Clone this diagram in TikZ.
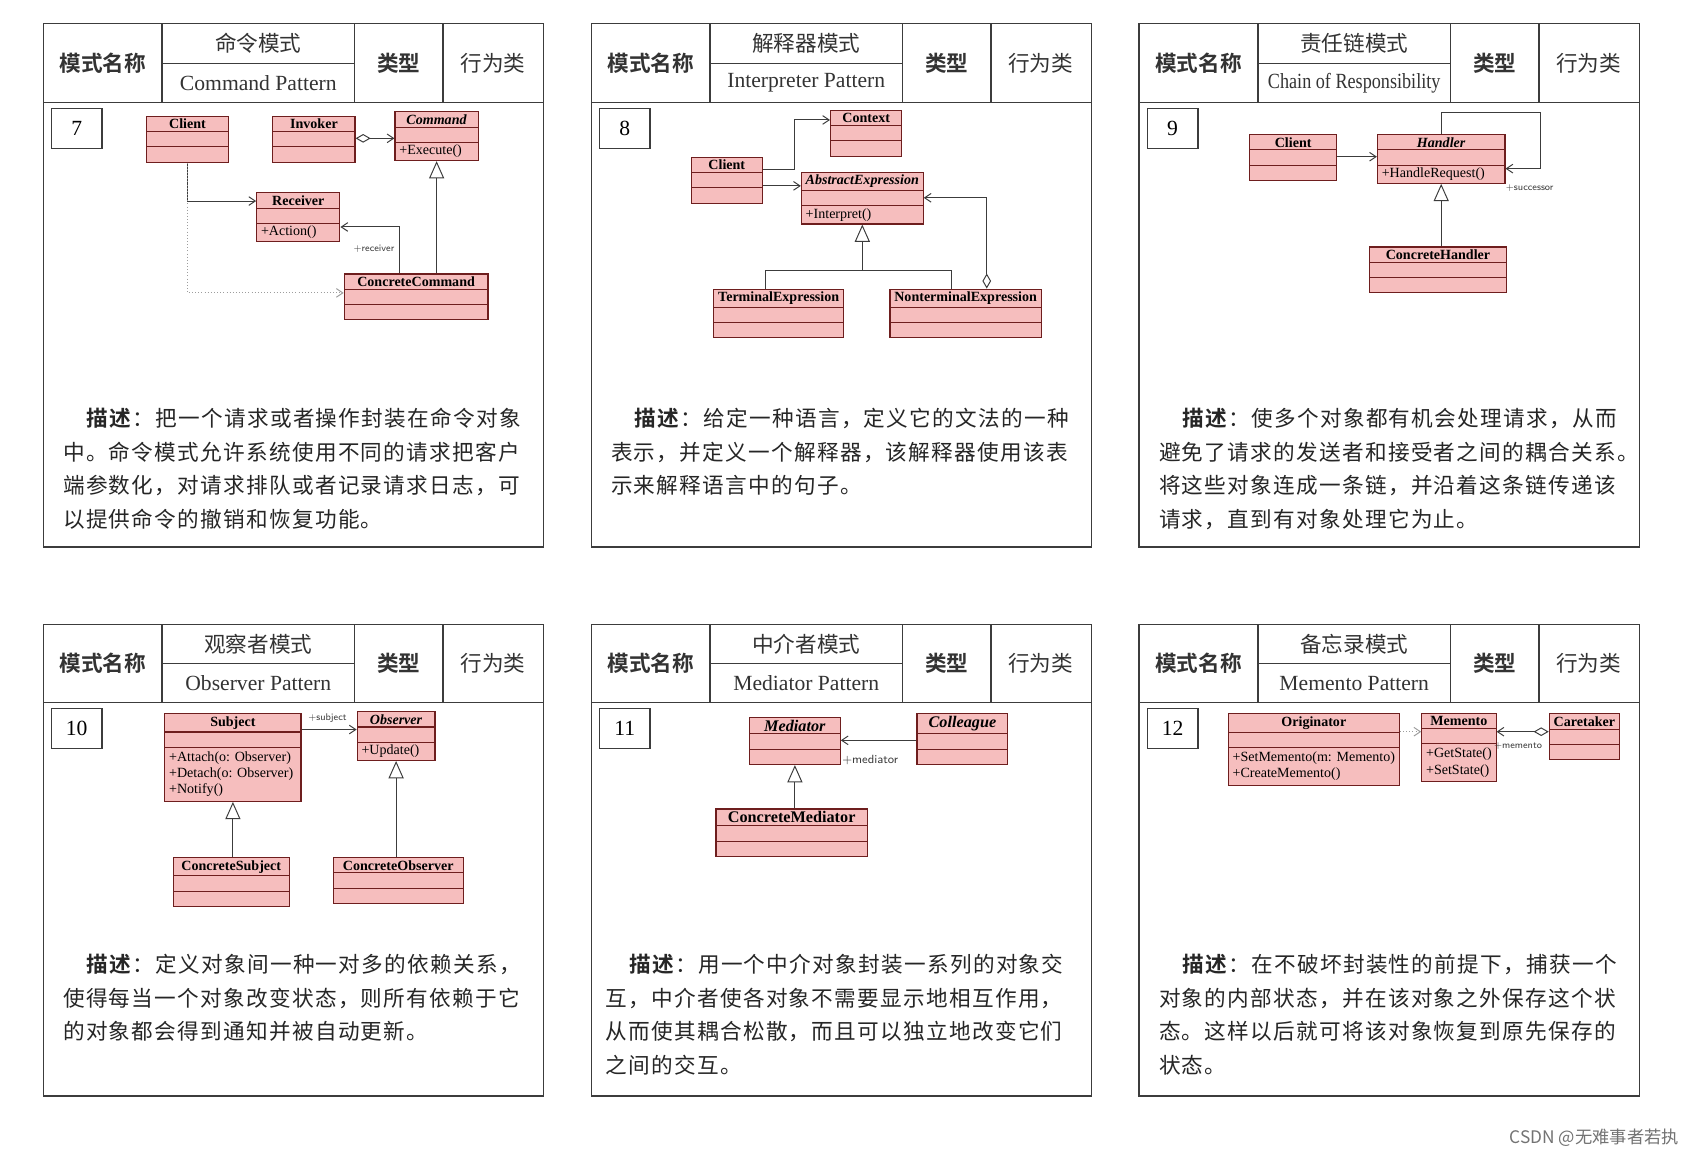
\documentclass[tikz,border=0pt]{standalone}
\usepackage{fontspec}
\setmainfont{Liberation Serif}
\newfontfamily\cjk[BoldFont={Noto Sans CJK SC Bold}]{Noto Sans CJK SC}
\newfontfamily\cjkdesc[BoldFont={Noto Sans CJK SC Bold}, LetterSpace=6]{Noto Sans CJK SC}
\usetikzlibrary{positioning}
\usetikzlibrary{shapes}
\usetikzlibrary{arrows.meta}
\definecolor{umlpink}{RGB}{246,190,190}
\definecolor{umledge}{RGB}{110,30,30}
\definecolor{framegray}{RGB}{60,60,60}
\newcommand{\umlfont}{\fontsize{6.5}{7.5}\selectfont}
\newcommand{\ops}[1]{\begin{tabular}{@{}l@{}}#1\end{tabular}}
\newcommand{\firstline}[1]{\textbf{描述}：#1}
\newcommand{\fullline}[1]{#1}
% one pattern card: prefix, left x, top y, bottom y, header height, number, chinese name, english name
\newcommand{\patterncard}[8]{%
  \draw[frame] (#2,#3) rectangle ({#2+463},#4);
  \draw[frame] (#2,{#3+#5}) -- ({#2+463},{#3+#5});
  \foreach \dx in {110,288,370} \draw[frame] ({#2+\dx},#3) -- ({#2+\dx},{#3+#5});
  \draw[frame] ({#2+110},{#3+#5/2}) -- ({#2+288},{#3+#5/2});
  \node[hdr, font=\cjk\bfseries\fontsize{10}{12}\selectfont] (#1-key) at ({#2+55},{#3+#5/2}) {模式名称};
  \node[hdr, font=\cjk\fontsize{10}{12}\selectfont] (#1-cn) at ({#2+199},{#3+#5/4}) {#7};
  \node[hdr] (#1-en) at ({#2+199},{#3+3*#5/4}) {#8};
  \node[hdr, font=\cjk\bfseries\fontsize{10}{12}\selectfont] (#1-typekey) at ({#2+329},{#3+#5/2}) {类型};
  \node[hdr, font=\cjk\fontsize{10}{12}\selectfont] (#1-type) at ({#2+416},{#3+#5/2}) {行为类};
  \node[numbox] (#1-num) at ({#2+31},{#3+#5+24}) {#6};
}
\begin{document}
\begin{tikzpicture}[x=0.5pt, y=-0.5pt,
    frame/.style={draw=framegray, line width=0.6pt},
    hdr/.style={inner sep=0pt, font=\fontsize{10}{12}\selectfont, text=black!80},
    numbox/.style={draw=framegray, line width=0.6pt, minimum width=23.5pt, minimum height=18.5pt, font=\fontsize{10}{12}\selectfont},
    cls/.style={rectangle split, rectangle split parts=3, draw=umledge, fill=umlpink, anchor=north west,
      font=\umlfont, inner xsep=2pt, inner ysep=1pt, rectangle split empty part height=1.6pt,
      rectangle split part align={center,left,left}, line width=0.5pt},
    desc/.style={anchor=base west, inner sep=0pt, font=\cjkdesc\fontsize{10}{12}\selectfont, text=black!85},
    role/.style={inner sep=0.5pt, font=\fontsize{4.5}{5}\selectfont\sffamily, text=framegray},
    assoc/.style={draw=framegray, line width=0.45pt, -{Straight Barb[length=3pt, width=4pt]}},
    depend/.style={assoc, densely dotted},
    inherit/.style={draw=framegray, line width=0.45pt, -{Triangle[open, length=8pt, width=7pt]}},
    aggr/.style={draw=framegray, line width=0.45pt, {Diamond[open, length=7pt, width=4pt]}-{Straight Barb[length=3pt, width=4pt]}}]
  \useasboundingbox[fill=white] (0,0) rectangle (1560,1066);
  % cards
  \patterncard{p1}{40}{22}{506}{73}{7}{命令模式}{Command Pattern}
  \patterncard{p2}{547}{22}{506}{73}{8}{解释器模式}{Interpreter Pattern}
  \patterncard{p3}{1054}{22}{506}{73}{9}{责任链模式}{\scalebox{0.84}[1]{Chain of Responsibility}}
  \patterncard{p4}{40}{578}{1014}{72}{10}{观察者模式}{Observer Pattern}
  \patterncard{p5}{547}{578}{1014}{72}{11}{中介者模式}{Mediator Pattern}
  \patterncard{p6}{1054}{578}{1014}{72}{12}{备忘录模式}{Memento Pattern}
  % command
  \node[cls, minimum width=38pt] (p1-client) at (135,107) {\textbf{Client}\nodepart{two}\nodepart{three}};
  \node[cls, minimum width=38pt] (p1-inv) at (252,107) {\textbf{Invoker}\nodepart{two}\nodepart{three}};
  \node[cls, minimum width=38.5pt] (p1-cmd) at (365,103) {\textbf{\textit{Command}}\nodepart{two}\nodepart{three}+Execute()};
  \node[cls, minimum width=38.5pt] (p1-recv) at (237,178) {\textbf{Receiver}\nodepart{two}\nodepart{three}+Action()};
  \node[cls, minimum width=66.5pt] (p1-cc) at (318,253) {\textbf{ConcreteCommand}\nodepart{two}\nodepart{three}};
  \draw[assoc] (p1-client.south) |- ([yshift=-4pt]p1-recv.north west);
  \draw[depend, draw=framegray!50] (p1-client.south) |- ([yshift=-9pt]p1-cc.north west);
  \draw[aggr] ([yshift=-10.5pt]p1-inv.north east) -- ([yshift=-12.5pt]p1-cmd.north west);
  \draw[inherit] (p1-cc.north -| p1-cmd.south) -- (p1-cmd.south);
  \draw[assoc] ([xshift=26pt]p1-cc.north west) |- ([yshift=-16pt]p1-recv.north east);
  \node[role] (p1-role) at (346,230) {+receiver};
  % interpreter
  \node[cls, minimum width=33pt] (p2-ctx) at (768,102) {\textbf{Context}\nodepart{two}\nodepart{three}};
  \node[cls, minimum width=33pt] (p2-client) at (639,145) {\textbf{Client}\nodepart{two}\nodepart{three}};
  \node[cls, minimum width=55pt] (p2-abs) at (741,159) {\textbf{\textit{AbstractExpression}}\nodepart{two}\nodepart{three}+Interpret()};
  \node[cls, minimum width=59.5pt] (p2-term) at (660,267) {\textbf{TerminalExpression}\nodepart{two}\nodepart{three}};
  \node[cls, minimum width=68.5pt] (p2-nonterm) at (823,267) {\textbf{NonterminalExpression}\nodepart{two}\nodepart{three}};
  \coordinate (p2-join) at (p2-abs.south |- 0,250);
  \draw[assoc] ([yshift=-6pt]p2-client.north east) -| ([xshift=-16.5pt,yshift=-4.5pt]p2-ctx.north west) -- ([yshift=-4.5pt]p2-ctx.north west);
  \draw[assoc] ([yshift=-13.5pt]p2-client.north east) -- ([yshift=-6.5pt]p2-abs.north west);
  \draw[draw=framegray, line width=0.45pt] ([xshift=-6pt]p2-term.north) |- (p2-join) -| ([xshift=28.5pt]p2-nonterm.north west);
  \draw[inherit] (p2-join) -- (p2-abs.south);
  \draw[aggr] ([xshift=45pt]p2-nonterm.north west) |- ([yshift=-12pt]p2-abs.north east);
  % chain of responsibility
  \node[cls, minimum width=40pt] (p3-client) at (1156,124) {\textbf{Client}\nodepart{two}\nodepart{three}};
  \node[cls, minimum width=59pt] (p3-hand) at (1274,124) {\textbf{\textit{Handler}}\nodepart{two}\nodepart{three}+HandleRequest()};
  \node[cls, minimum width=63pt] (p3-ch) at (1267,228) {\textbf{ConcreteHandler}\nodepart{two}\nodepart{three}};
  \draw[assoc] ([yshift=-10.5pt]p3-client.north east) -- ([yshift=-10.5pt]p3-hand.north west);
  \draw[assoc] (p3-hand.north) -- ++(0,-20) -| ([xshift=16pt,yshift=-16pt]p3-hand.north east) -- ([yshift=-16pt]p3-hand.north east);
  \draw[inherit] (p3-ch.north -| p3-hand.south) -- (p3-hand.south);
  \node[role, anchor=west] (p3-role) at (1392,174) {+successor};
  % observer
  \node[cls, minimum width=63pt] (p4-subj) at (152,660) {\textbf{Subject}\nodepart{two}\nodepart{three}\ops{+Attach(o: Observer)\\+Detach(o: Observer)\\+Notify()}};
  \node[cls, minimum width=36pt] (p4-obs) at (330,658) {\textbf{\textit{Observer}}\nodepart{two}\nodepart{three}+Update()};
  \node[cls, minimum width=53.5pt] (p4-csub) at (160,793) {\textbf{ConcreteSubject}\nodepart{two}\nodepart{three}};
  \node[cls, minimum width=60pt] (p4-cobs) at (308,793) {\textbf{ConcreteObserver}\nodepart{two}\nodepart{three}};
  \draw[assoc] ([yshift=-7.5pt]p4-subj.north east) -- ([yshift=-8.5pt]p4-obs.north west);
  \node[role] (p4-role) at (303,664) {+subject};
  \draw[inherit] (p4-csub.north -| p4-subj.south) -- (p4-subj.south);
  \draw[inherit] (p4-cobs.north -| p4-obs.south) -- (p4-obs.south);
  % mediator
  \node[cls, minimum width=42pt, font=\fontsize{7.5}{8.5}\selectfont] (p5-med) at (693,663) {\textbf{\textit{Mediator}}\nodepart{two}\nodepart{three}};
  \node[cls, minimum width=42pt, font=\fontsize{7.5}{8.5}\selectfont] (p5-coll) at (848,660) {\textbf{\textit{Colleague}}\nodepart{two}\nodepart{three}};
  \node[cls, minimum width=70pt, font=\fontsize{7.5}{8.5}\selectfont] (p5-cmed) at (662,748) {\textbf{ConcreteMediator}\nodepart{two}\nodepart{three}};
  \draw[assoc] ([yshift=-12.5pt]p5-coll.north west) -- ([yshift=-11pt]p5-med.north east);
  \node[role, anchor=west, font=\fontsize{5.5}{6}\selectfont\sffamily] (p5-role) at (778,703) {+mediator};
  \draw[inherit] (p5-cmed.north -| p5-med.south) -- (p5-med.south);
  % memento
  \node[cls, minimum width=73pt] (p6-orig) at (1136,660) {\textbf{Originator}\nodepart{two}\nodepart{three}\ops{+SetMemento(m: Memento)\\+CreateMemento()}};
  \node[cls, minimum width=32.5pt] (p6-mem) at (1315,660) {\textbf{Memento}\nodepart{two}\nodepart{three}\ops{+GetState()\\+SetState()}};
  \node[cls, minimum width=32.5pt] (p6-care) at (1433,660) {\textbf{Caretaker}\nodepart{two}\nodepart{three}};
  \draw[depend, draw=framegray!50] ([yshift=-8.5pt]p6-orig.north east) -- ([yshift=-8.5pt]p6-mem.north west);
  \draw[aggr] ([yshift=-8.5pt]p6-care.north west) -- ([yshift=-8.5pt]p6-mem.north east);
  \node[role, anchor=west] (p6-role) at (1381,690) {+memento};
  % descriptions
  \node[desc] (p1-d1) at (80,395) {\firstline{把一个请求或者操作封装在命令对象}};
  \node[desc] (p1-d2) at (58,426) {\fullline{中。命令模式允许系统使用不同的请求把客户}};
  \node[desc] (p1-d3) at (58,457) {\fullline{端参数化，对请求排队或者记录请求日志，可}};
  \node[desc] (p1-d4) at (58,488) {以提供命令的撤销和恢复功能。};
  \node[desc] (p2-d1) at (587,395) {\firstline{给定一种语言，定义它的文法的一种}};
  \node[desc] (p2-d2) at (565,426) {\fullline{表示，并定义一个解释器，该解释器使用该表}};
  \node[desc] (p2-d3) at (565,457) {示来解释语言中的句子。};
  \node[desc] (p3-d1) at (1094,395) {\firstline{使多个对象都有机会处理请求，从而}};
  \node[desc] (p3-d2) at (1072,426) {\fullline{避免了请求的发送者和接受者之间的耦合关系。}};
  \node[desc] (p3-d3) at (1072,457) {\fullline{将这些对象连成一条链，并沿着这条链传递该}};
  \node[desc] (p3-d4) at (1072,488) {请求，直到有对象处理它为止。};
  \node[desc] (p4-d1) at (80,900) {\firstline{定义对象间一种一对多的依赖关系，}};
  \node[desc] (p4-d2) at (58,931) {\fullline{使得每当一个对象改变状态，则所有依赖于它}};
  \node[desc] (p4-d3) at (58,962) {的对象都会得到通知并被自动更新。};
  \node[desc] (p5-d1) at (582,900) {\firstline{用一个中介对象封装一系列的对象交}};
  \node[desc] (p5-d2) at (560,931) {\fullline{互，中介者使各对象不需要显示地相互作用，}};
  \node[desc] (p5-d3) at (560,962) {\fullline{从而使其耦合松散，而且可以独立地改变它们}};
  \node[desc] (p5-d4) at (560,993) {之间的交互。};
  \node[desc] (p6-d1) at (1094,900) {\firstline{在不破坏封装性的前提下，捕获一个}};
  \node[desc] (p6-d2) at (1072,931) {\fullline{对象的内部状态，并在该对象之外保存这个状}};
  \node[desc] (p6-d3) at (1072,962) {\fullline{态。这样以后就可将该对象恢复到原先保存的}};
  \node[desc] (p6-d4) at (1072,993) {状态。};
  \node[anchor=east, inner sep=0pt, font=\cjk\fontsize{8}{9}\selectfont, text=black!55] (mark) at (1554,1053) {CSDN @无难事者若执};
\end{tikzpicture}
\end{document}
